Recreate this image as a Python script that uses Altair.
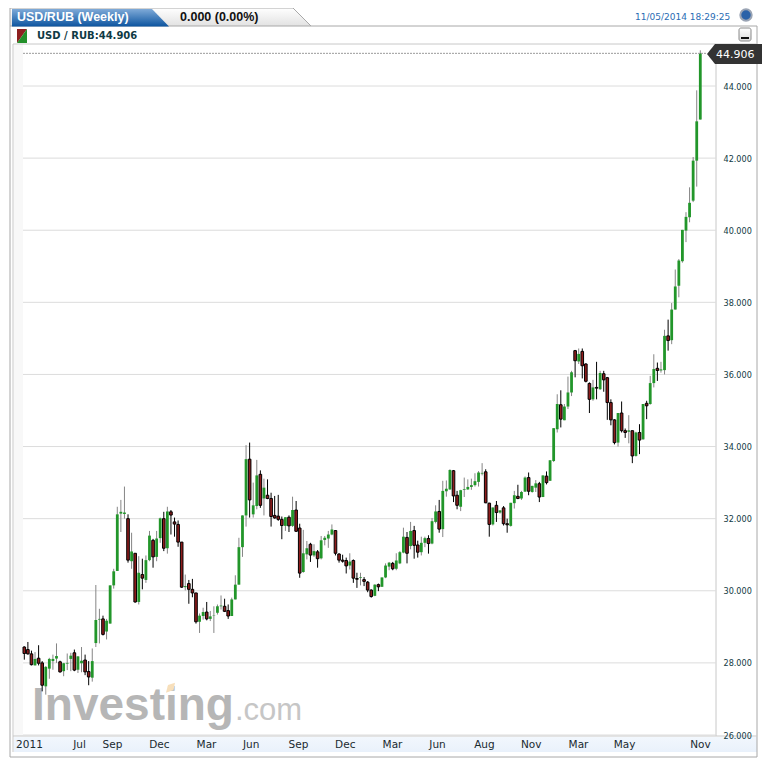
import altair as alt
import pandas as pd

opens = [28.44,28.37,28.25,27.93,28.13,28.0,27.35,27.84,28.05,28.12,28.03,27.77,27.98,28.11,28.28,27.81,27.99,28.08,27.76,27.59,
28.55,29.2,29.22,28.87,29.09,30.15,30.55,32.14,32.13,32.0,30.82,31.04,29.69,30.45,30.3,30.85,31.4,30.94,31.46,32.0,
31.18,32.19,31.91,31.84,31.35,30.1,30.2,30.04,29.94,29.14,29.3,29.41,29.22,29.3,29.39,29.57,29.57,29.45,29.3,29.76,
30.17,31.21,32.09,33.65,32.12,32.35,33.23,32.56,32.65,32.56,32.09,32.07,31.98,31.8,32.04,31.8,32.24,31.74,30.52,31.01,
31.29,30.98,31.08,30.9,31.41,31.45,31.56,31.67,31.02,30.85,30.84,30.7,30.84,30.34,30.36,30.31,30.24,30.02,29.86,30.17,
30.11,30.37,30.67,30.76,30.61,30.76,31.06,31.48,31.24,31.67,31.27,31.07,31.33,31.45,31.31,31.91,32.2,31.71,32.76,32.81,
33.33,32.65,32.33,32.8,32.81,32.88,32.93,33.02,33.25,33.3,32.43,31.84,32.37,32.17,32.3,31.86,31.8,32.43,32.62,32.56,
32.75,33.14,32.74,32.86,32.97,32.6,33.18,33.05,33.6,34.48,35.16,34.73,35.11,35.5,36.66,36.36,36.64,36.29,35.75,35.31,
35.64,35.59,36.02,35.91,35.22,34.74,34.11,34.93,34.44,34.41,34.44,33.74,34.39,34.2,35.2,35.18,35.76,36.17,36.11,36.12,
37.07,36.95,37.8,38.46,39.14,39.99,40.36,40.82,41.93,43.07]
closes = [28.26,28.25,27.95,28.11,27.99,27.38,27.89,28.11,28.11,28.19,27.75,27.99,28.0,28.2,27.8,28.18,28.06,27.75,27.61,28.05,
29.19,29.22,28.79,29.17,30.15,30.54,32.12,32.19,32.17,30.85,31.09,29.69,30.5,30.35,30.85,31.53,30.94,31.45,32.01,31.18,
32.2,32.1,31.85,31.35,30.1,30.13,30.04,29.94,29.14,29.31,29.41,29.22,29.29,29.31,29.57,29.59,29.43,29.3,29.76,30.17,
31.21,32.09,33.65,32.52,32.37,33.2,32.37,32.86,32.56,32.06,32.02,31.98,31.81,32.04,31.8,32.24,31.65,30.49,31.04,31.18,
30.99,31.1,30.89,31.4,31.47,31.56,31.7,31.04,30.85,30.82,30.69,30.81,30.35,30.32,30.38,30.26,30.02,29.84,30.17,30.11,
30.37,30.7,30.78,30.61,30.84,31.07,31.5,31.04,31.66,31.26,31.07,31.33,31.46,31.31,31.93,32.2,31.71,32.77,32.83,33.35,
32.63,32.37,32.79,32.82,32.88,32.93,33.04,33.28,33.27,32.44,31.84,32.31,32.17,32.23,31.86,31.83,32.44,32.65,32.56,32.74,
33.14,32.76,32.91,32.98,32.6,33.2,33.0,33.62,34.51,35.18,34.76,35.11,35.5,36.06,36.38,36.57,36.24,35.81,35.31,35.64,
35.62,36.04,35.85,35.22,34.74,34.11,34.93,34.44,34.39,34.45,33.74,34.39,34.18,35.18,35.13,35.76,36.15,36.11,36.14,37.07,
36.94,37.8,38.44,39.16,40.01,40.37,40.76,41.93,43.02,44.906]
highs = [28.46,28.58,28.34,28.3,28.49,28.05,27.91,28.14,28.23,28.54,28.06,28.0,28.26,28.28,28.37,28.19,28.44,28.23,28.05,28.4,
30.16,29.5,29.31,29.22,30.15,30.61,32.33,32.52,32.89,32.12,31.61,31.04,30.96,30.89,30.98,31.66,31.44,31.66,32.03,32.19,
32.33,32.24,32.03,31.95,31.35,30.45,30.3,30.33,29.94,29.37,29.53,29.69,29.44,29.57,29.62,29.87,29.78,29.62,29.81,30.43,
31.47,32.09,34.04,34.11,33.0,33.63,33.34,33.11,33.09,32.72,32.63,32.66,32.06,32.04,32.09,32.61,32.49,31.86,31.69,31.38,
31.33,31.29,31.13,31.52,31.52,31.66,31.84,31.68,31.04,31.0,30.92,31.04,30.87,30.5,30.5,30.38,30.27,30.04,30.18,30.2,
30.37,30.76,30.8,30.8,31.04,31.1,31.75,31.63,31.91,31.8,31.39,31.5,31.5,31.54,32.02,32.37,32.52,33.05,33.06,33.37,
33.35,32.77,32.8,33.14,33.09,33.11,33.26,33.32,33.54,33.37,32.44,32.31,32.49,32.23,32.35,32.0,32.44,32.77,32.94,32.77,
33.17,33.28,32.91,33.07,33.02,33.2,33.31,33.62,34.51,35.45,35.56,35.18,35.94,36.1,36.68,36.72,36.72,36.31,35.78,35.85,
36.35,36.1,36.1,35.93,35.31,34.76,34.93,35.25,34.5,34.87,34.44,34.41,34.62,35.18,35.27,35.96,36.56,36.33,36.35,37.24,
37.52,37.98,38.91,39.2,40.01,40.5,41.19,42.03,43.88,44.99]
lows = [28.09,28.23,27.93,27.93,27.93,27.21,27.12,27.56,27.81,28.0,27.73,27.63,27.8,27.77,27.77,27.72,27.74,27.66,27.38,27.48,
28.44,28.54,28.76,28.65,29.09,30.06,30.55,31.63,32.0,30.78,30.61,29.67,29.62,30.04,30.22,30.82,30.64,30.82,31.33,31.1,
31.03,31.56,31.5,31.22,30.08,30.01,29.64,29.82,29.09,28.83,29.2,29.18,29.16,28.83,29.34,29.48,29.41,29.22,29.3,29.76,
30.17,30.94,31.78,32.03,32.03,32.26,32.3,32.09,32.54,31.78,32.0,31.94,31.43,31.66,31.63,31.77,31.63,30.36,30.5,30.87,
30.8,30.94,30.64,30.87,31.26,31.19,31.54,30.98,30.78,30.78,30.48,30.59,30.22,30.08,30.15,30.13,29.96,29.81,29.85,29.99,
30.11,30.35,30.57,30.57,30.57,30.74,31.04,30.76,31.15,30.89,30.92,30.98,31.21,31.03,31.29,31.87,31.61,31.49,32.61,32.8,
32.46,32.26,32.21,32.6,32.8,32.8,32.89,32.89,33.2,32.43,31.5,31.81,31.91,32.14,31.81,31.61,31.78,32.28,32.54,32.52,
32.74,32.65,32.72,32.74,32.46,32.6,32.95,33.05,33.57,34.39,34.53,34.73,35.04,35.4,35.92,36.29,35.89,35.78,34.93,35.27,
35.31,35.57,35.52,34.74,34.59,34.06,34.0,34.39,34.24,34.09,33.54,33.72,33.79,34.19,34.76,35.16,35.64,35.82,36.05,36.0,
36.66,36.84,37.8,38.14,39.1,39.67,40.22,40.78,41.21,43.07]

price_ticks = [26, 28, 30, 32, 34, 36, 38, 40, 42, 44]
date_pos = [1.3, 15.3, 24.5, 37.6, 50.8, 63.3, 76.5, 89.6, 102.8, 115.4, 128.5, 141.6, 154.8, 167.7, 188.9]
date_labels = ["2011", "Jul", "Sep", "Dec", "Mar", "Jun", "Sep", "Dec", "Mar", "Jun", "Aug", "Nov", "Mar", "May", "Nov"]
last_price = 44.906

df = pd.DataFrame({"i": range(len(opens)), "o": opens, "c": closes, "h": highs, "l": lows})
up = df[df.c >= df.o]
down = df[df.c < df.o]

OX, OY = 23, 8   # page position of the plot origin
FONT = "DejaVu Sans"
one = alt.InlineData(values=[{"a": 1}])


def rect(x0, y0, x1, y1, fill=None, stroke=None, **extra):
    kw = dict(extra)
    if fill is not None:
        kw["fill"] = fill
    if stroke is not None:
        kw["stroke"] = stroke
        kw["strokeWidth"] = 1
    return alt.Chart(one).mark_rect(**kw).encode(
        x=alt.value(x0 - OX), x2=alt.value(x1 - OX), y=alt.value(y0 - OY), y2=alt.value(y1 - OY))


def hline(x0, x1, y, color="#c8c8c8", **kw):
    return alt.Chart(one).mark_rule(color=color, strokeWidth=1, **kw).encode(
        x=alt.value(x0 - OX), x2=alt.value(x1 - OX), y=alt.value(y - OY))


def vline(x, y0, y1, color="#c8c8c8"):
    return alt.Chart(one).mark_rule(color=color, strokeWidth=1).encode(
        x=alt.value(x - OX), y=alt.value(y0 - OY), y2=alt.value(y1 - OY))


def poly(points, fill, stroke=None, width=1):
    xs = [p[0] for p in points]
    ys = [p[1] for p in points]
    cx, cy = (min(xs) + max(xs)) / 2, (min(ys) + max(ys)) / 2
    r = max(max(xs) - min(xs), max(ys) - min(ys)) / 2
    path = "M" + "L".join(f"{(x - cx) / r:.4f},{(y - cy) / r:.4f}" for x, y in points) + "Z"
    kw = dict(stroke=stroke, strokeWidth=width) if stroke else dict(strokeWidth=0)
    return alt.Chart(one).mark_point(shape=path, size=(2 * r) ** 2, filled=True, fill=fill,
                                     opacity=1, **kw).encode(
        x=alt.value(cx - OX), y=alt.value(cy - OY))


def label(x, y, s, color, size, font=FONT, weight="normal", align="left", baseline="middle", **kw):
    return alt.Chart(one).mark_text(text=s, color=color, fontSize=size, font=font, fontWeight=weight,
                                    align=align, baseline=baseline, **kw).encode(
        x=alt.value(x - OX), y=alt.value(y - OY))


def vgrad(a, b):
    return alt.Gradient(gradient="linear", x1=0, y1=0, x2=0, y2=1,
                        stops=[alt.GradientStop(offset=0, color=a), alt.GradientStop(offset=1, color=b)])


x_scale = alt.Scale(domain=[0, 189], range=[1.3, 677.3], padding=0)
y_scale = alt.Scale(domain=[26, 44], range=[727, 78], padding=0)

label_expr = ("[" + ",".join(f"'{s}'" for s in date_labels) + "][indexof(["
              + ",".join(str(p) for p in date_pos) + "],datum.value)]")

x_axis = alt.Axis(values=date_pos, labelExpr=label_expr, labelFont=FONT, labelFontSize=10.5, labelColor="#1a2a30",
                  labelPadding=3, labelOverlap=False, labelBound=False, labelFlush=False, labelAngle=0,
                  domain=False, ticks=False, grid=False, title=None, orient="bottom", zindex=1)
y_axis = alt.Axis(values=price_ticks, format=".3f", orient="right", labelFont="DejaVu Sans Condensed",
                  labelFontSize=9, labelColor="#123a44", labelPadding=7, domain=False, ticks=False,
                  grid=False, title=None, zindex=1)

X = alt.X("i:Q", scale=x_scale, axis=x_axis)
Y = alt.Y("l:Q", scale=y_scale, axis=y_axis)
Y2 = alt.Y2("h:Q")
YB = alt.Y("o:Q", scale=y_scale, axis=y_axis)
YB2 = alt.Y2("c:Q")

chrome_back = [
    poly([(10, 8), (293, 8), (311, 26), (10, 26)], vgrad("#ffffff", "#e2e2e2"), stroke="#a8a8a8"),
    poly([(12, 9), (152, 9), (169, 26.5), (12, 26.5)], vgrad("#7faad8", "#0c549f")),
    rect(14, 45, 23, 736, fill="#f8f8f8"),
    rect(14, 737, 757, 752, fill=vgrad("#f2f7fd", "#e9f1fb")),
    hline(311, 757, 26, color="#a8a8a8"),
    hline(10, 757, 757, color="#a8a8a8"),
    vline(10, 26, 757, color="#a8a8a8"),
    vline(757, 26, 757, color="#a8a8a8"),
    hline(13, 757, 44),
    hline(13, 757, 736),
    vline(13, 44, 752),
    vline(716, 44, 736),
]

grid = alt.Chart(pd.DataFrame({"v": price_ticks})).mark_rule(color="#dcdcdc", strokeWidth=1).encode(
    x=alt.value(0), x2=alt.value(693), y=alt.Y("v:Q", scale=y_scale, axis=y_axis))

watermark = [
    label(32, 720, "Investing", "#b6b6b6", 46, font="Liberation Sans", weight="bold", baseline="alphabetic"),
    label(235, 720, ".com", "#c6c6c6", 31, font="Liberation Sans", baseline="alphabetic"),
    poly([(168, 685), (175, 682.7), (173.5, 690), (166, 692.7)], "#f7dfbb"),
]

candles = [
    alt.Chart(up).mark_rule(color="#858585", strokeWidth=1).encode(x=X, y=Y, y2=Y2),
    alt.Chart(up).mark_bar(size=2.8, color="#22962a").encode(x=X, y=YB, y2=YB2),
    alt.Chart(down).mark_rule(color="#000000", strokeWidth=1).encode(x=X, y=Y, y2=Y2),
    alt.Chart(down).mark_bar(size=2.6, color="#8e1c1c", stroke="#000000", strokeWidth=1).encode(x=X, y=YB, y2=YB2),
]

price_line = alt.Chart(pd.DataFrame({"v": [last_price]})).mark_rule(
    color="#9a9a9a", strokeWidth=1, strokeDash=[2, 1]).encode(
    x=alt.value(0), x2=alt.value(683), y=alt.Y("v:Q", scale=y_scale, axis=y_axis))

chrome_front = [
    poly([(707, 54), (715, 44), (762, 44), (762, 64), (715, 64)], "#333333"),
    label(716, 54.5, f"{last_price:.3f}", "#ffffff", 11),
    label(17, 16.5, "USD/RUB (Weekly)", "#ffffff", 12.5, font="Liberation Sans", weight="bold"),
    label(180, 16.5, "0.000 (0.00%)", "#111111", 12.5, font="Liberation Sans", weight="bold"),
    label(635, 16.5, "11/05/2014 18:29:25", "#2a6cb4", 9),
    poly([(17, 29), (27, 29), (17, 43)], "#8e2020"),
    poly([(27, 29), (27, 43), (17, 43)], "#22902a"),
    label(37, 35.5, "USD / RUB:44.906", "#0f3a44", 10, weight="bold"),
    alt.Chart(one).mark_point(shape="circle", size=130, filled=True, fill="#2a62a8", opacity=1,
                              stroke="#9aa4b4", strokeWidth=2).encode(x=alt.value(746 - OX), y=alt.value(15 - OY)),
    rect(739, 28, 751, 41, fill=vgrad("#ffffff", "#dcdcdc"), stroke="#8a8a8a", cornerRadius=2),
    rect(741, 37, 749, 39, fill="#111111"),
]

chart = alt.layer(*chrome_back, grid, *watermark, *candles, price_line, *chrome_front).properties(
    width=693, height=728,
    autosize=alt.AutoSizeParams(type="none"),
    padding={"left": OX - 8, "top": 0, "right": 46, "bottom": 22},
    background="#ffffff",
).configure_view(strokeWidth=0)

chart.save("out.html", embed_options={"renderer": "svg", "actions": False})
